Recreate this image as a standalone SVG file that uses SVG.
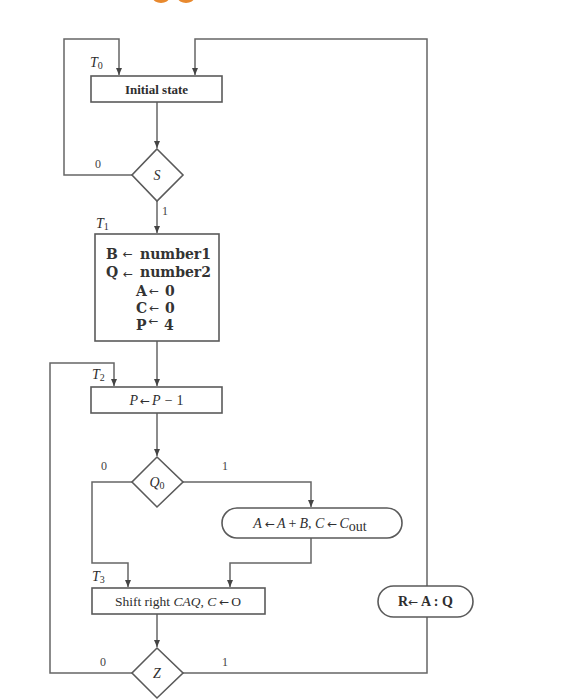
<svg xmlns="http://www.w3.org/2000/svg" width="564" height="700" viewBox="0 0 564 700">
<defs>
<style>
.box{fill:#fff;stroke:#5a5a5a;stroke-width:1.6}
.ln{fill:none;stroke:#666;stroke-width:1.5}
.t{font-family:"Liberation Serif",serif;fill:#2e2e2e}
.b{font-weight:bold}
.i{font-style:italic}
.lbl{font-family:"Liberation Serif",serif;fill:#444;font-size:12px}
.dv{font-family:"DejaVu Serif",serif;font-weight:bold;fill:#333;font-size:14px}
.ar{font-family:"DejaVu Sans",sans-serif;font-weight:normal;font-style:normal;font-size:12px}
</style>
<marker id="ah" markerWidth="8" markerHeight="8" refX="7" refY="4" orient="auto" markerUnits="userSpaceOnUse">
<path d="M0,1 L7,4 L0,7 Z" fill="#444"/>
</marker>
</defs>
<rect width="564" height="700" fill="#fff"/>
<g id="deco">
<ellipse cx="161" cy="-2" rx="8" ry="5" fill="#e8892e"/>
<ellipse cx="186" cy="-2" rx="8" ry="5" fill="#e8892e"/>
</g>
<g id="connectors">
<polyline class="ln" points="132,175 64,175 64,39 119,39 119,75" marker-end="url(#ah)"/>
<polyline class="ln" points="427,586 427,39 195,39 195,75" marker-end="url(#ah)"/>
<polyline class="ln" points="157,102 157,148" marker-end="url(#ah)"/>
<polyline class="ln" points="157,201 157,233" marker-end="url(#ah)"/>
<polyline class="ln" points="157,341 157,386" marker-end="url(#ah)"/>
<polyline class="ln" points="157,413 157,456" marker-end="url(#ah)"/>
<polyline class="ln" points="132,482 92,482 92,563 128,563 128,587" marker-end="url(#ah)"/>
<polyline class="ln" points="183,482 311,482 311,507" marker-end="url(#ah)"/>
<polyline class="ln" points="311,538 311,563 230,563 230,587" marker-end="url(#ah)"/>
<polyline class="ln" points="157,614 157,647" marker-end="url(#ah)"/>
<polyline class="ln" points="132,673 50,673 50,363 114,363 114,386" marker-end="url(#ah)"/>
<polyline class="ln" points="183,673 427,673 427,617"/>
<text class="lbl" x="98" y="168" text-anchor="middle">0</text>
<text class="lbl" x="165" y="215" text-anchor="middle">1</text>
<text class="lbl" x="104" y="470" text-anchor="middle">0</text>
<text class="lbl" x="225" y="470" text-anchor="middle">1</text>
<text class="lbl" x="103" y="666" text-anchor="middle">0</text>
<text class="lbl" x="225" y="666" text-anchor="middle">1</text>
</g>
<g id="init">
<text class="t i" x="90" y="67" font-size="14">T<tspan font-size="10" dy="2" font-style="normal">0</tspan></text>
<rect class="box" x="91" y="76" width="131" height="26"/>
<text class="t b" x="156.5" y="93.5" font-size="13" text-anchor="middle">Initial state</text>
</g>
<g id="S">
<polygon class="box" points="157,149 183,175 157,201 132,175"/>
<text class="t i" x="157" y="180" font-size="14" text-anchor="middle">S</text>
</g>
<g id="T1">
<text class="t i" x="96" y="228" font-size="14">T<tspan font-size="10" dy="2" font-style="normal">1</tspan></text>
<rect class="box" x="95" y="234" width="124" height="107"/>
<text class="dv" x="106" y="259">B <tspan class="ar" dy="-1">←</tspan><tspan dy="1" x="140">number1</tspan></text>
<text class="dv" x="106" y="277">Q <tspan class="ar" dy="1">←</tspan><tspan dy="-1" x="140">number2</tspan></text>
<text class="dv" x="136" y="296">A<tspan class="ar" dy="-1" dx="2">←</tspan><tspan dy="1" x="165">0</tspan></text>
<text class="dv" x="136" y="313">C<tspan class="ar" dy="-1" dx="2">←</tspan><tspan dy="1" x="165">0</tspan></text>
<text class="dv" x="136" y="330">P<tspan class="ar" dy="-5" dx="2">←</tspan><tspan dy="5" x="164">4</tspan></text>
</g>
<g id="T2">
<text class="t i" x="92" y="379" font-size="14">T<tspan font-size="10" dy="2" font-style="normal">2</tspan></text>
<rect class="box" x="91" y="387" width="131" height="26"/>
<text class="t i" x="156.5" y="405" font-size="14" text-anchor="middle">P<tspan class="ar" dx="2">←</tspan><tspan dx="2">P</tspan><tspan font-style="normal" dx="4">−</tspan><tspan font-style="normal" dx="4">1</tspan></text>
</g>
<g id="Q0">
<polygon class="box" points="157,457 183,482 157,507 132,482"/>
<text class="t i" x="157" y="487" font-size="14" text-anchor="middle">Q<tspan font-size="10" dy="2" font-style="normal">0</tspan></text>
</g>
<g id="add">
<rect class="box" x="222" y="508" width="180" height="30" rx="15" ry="15"/>
<text class="t i" x="310" y="528" font-size="14" text-anchor="middle">A<tspan class="ar" dx="3">←</tspan><tspan dx="2">A</tspan><tspan font-style="normal" dx="3">+</tspan><tspan dx="3">B, C</tspan><tspan class="ar" dx="3">←</tspan><tspan dx="2">C</tspan><tspan font-style="normal" dy="3">out</tspan></text>
</g>
<g id="T3">
<text class="t i" x="92" y="581" font-size="14">T<tspan font-size="10" dy="2" font-style="normal">3</tspan></text>
<rect class="box" x="92" y="588" width="173" height="26"/>
<text class="t" x="178" y="606" font-size="13.5" text-anchor="middle">Shift right <tspan font-style="italic">CAQ</tspan>, <tspan font-style="italic">C</tspan><tspan class="ar" dx="3">←</tspan><tspan dx="2">O</tspan></text>
</g>
<g id="Z">
<polygon class="box" points="157,648 183,673 157,698 132,673"/>
<text class="t i" x="157" y="678" font-size="14" text-anchor="middle">Z</text>
</g>
<g id="R">
<rect class="box" x="378" y="586" width="95" height="31" rx="15.5" ry="15.5"/>
<text class="t b" x="425.5" y="606" font-size="14" text-anchor="middle">R<tspan class="ar">←</tspan> A : Q</text>
</g>
</svg>
